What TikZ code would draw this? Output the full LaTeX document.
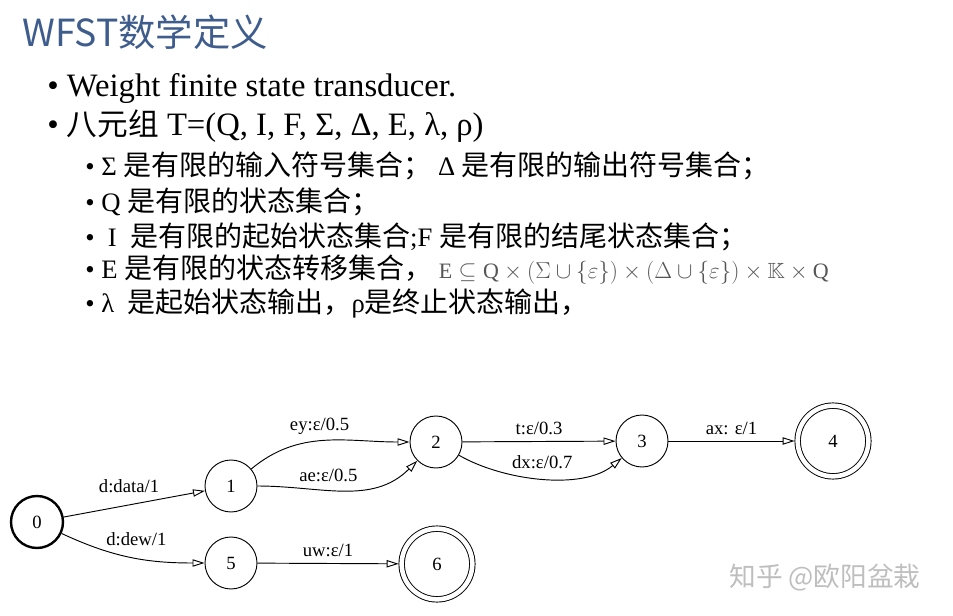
\documentclass[tikz,border=0pt]{standalone}
\usepackage{fontspec}
\usepackage{amssymb}
\setmainfont{Liberation Serif}
\newfontfamily\cjk{Noto Sans CJK SC}
\usetikzlibrary{arrows.meta}
\definecolor{titleblue}{RGB}{62,92,140}
\definecolor{markgray}{RGB}{190,190,190}
\definecolor{formgray}{RGB}{85,85,85}
\tikzstyle{state}=[circle,draw,line width=0.7pt,minimum size=39pt,inner sep=0pt,font=\fontsize{14}{14}\selectfont]
\tikzstyle{start}=[state,line width=1.8pt]
\tikzstyle{final}=[state,double,double distance=3.4pt,minimum size=53pt,outer sep=2.3pt]
\tikzstyle{edge}=[draw,line width=0.7pt,-{Triangle[open,length=9pt,width=5.5pt]}]
\tikzstyle{trans}=[font=\fontsize{14}{14}\selectfont,inner sep=1pt]
\tikzstyle{textline}=[anchor=base west,inner sep=0pt]
\tikzstyle{mainpt}=[textline,font=\fontsize{24.5}{30}\selectfont]
\tikzstyle{subpt}=[textline,font=\fontsize{20}{24}\selectfont]
\newcommand{\zh}[1]{{\cjk\fontsize{21}{24}\selectfont #1}}

\begin{document}
\begin{tikzpicture}[x=0.75pt,y=0.75pt]
    \useasboundingbox (0,0) rectangle (953,-616);

    % Title and definition
    \node[textline,text=titleblue,font=\cjk\fontsize{28}{30}\selectfont] (title) at (22,-47) {WFST数学定义};
    \node[mainpt] (def) at (47,-97) {• Weight finite state transducer.};
    \node[mainpt] (tuple) at (47,-136) {• {\cjk\fontsize{23}{30}\selectfont 八元组} T=(Q, I, F, Σ, Δ, E, λ, ρ)};

    \node[subpt] (sigma) at (85,-176) {• Σ \zh{是有限的输入符号集合；} Δ \zh{是有限的输出符号集合；}};
    \node[subpt] (qset) at (85,-212) {• Q \zh{是有限的状态集合；}};
    \node[subpt] (iset) at (85,-247) {•\ \ I\ \ \zh{是有限的起始状态集合};F \zh{是有限的结尾状态集合；}};
    \node[subpt] (eset) at (85,-279) {• E \zh{是有限的状态转移集合，}\ {\color{formgray}\fontsize{16.5}{18}\selectfont $\mathrm{E}\subseteq\mathrm{Q}\times(\Sigma\cup\{\varepsilon\})\times(\Delta\cup\{\varepsilon\})\times\mathbb{K}\times\mathrm{Q}$}};
    \node[subpt] (lambda) at (85,-313) {• λ\ \ \zh{是起始状态输出，}ρ\zh{是终止状态输出，}};

    % States
    \node[start] (s0) at (37,-522) {0};
    \foreach \pos/\name in {{(231,-486)/1},{(436,-442)/2},{(642,-441)/3},{(231,-563)/5}}
        \node[state] (s\name) at \pos {\name};
    \foreach \pos/\name in {{(833,-441)/4},{(437,-564)/6}}
        \node[final] (s\name) at \pos {\name};

    % Transitions
    \path[edge] (s0) -- node[trans,above=7pt,xshift=-4pt] {d:data/1} (s1);
    \path[edge] (s0) to[out=-25,in=180] node[trans,above=7pt,xshift=4pt] {d:dew/1} (s5);
    \path[edge] (s1) to[out=40,in=180] node[trans,above=3pt,xshift=-4pt] {ey:ε/0.5} (s2);
    \path[edge] (s1) to[out=0,in=-135] node[trans,above=5pt,xshift=-12pt] {ae:ε/0.5} (s2);
    \path[edge] (s2) -- node[trans,above=4pt] {t:ε/0.3} (s3);
    \path[edge] (s2) to[out=-30,in=-140,looseness=0.8] node[trans,above=6pt] {dx:ε/0.7} (s3);
    \path[edge] (s3) -- node[trans,above=3pt] {ax: ε/1} (s4);
    \path[edge] (s5) -- node[trans,above=4pt] {uw:ε/1} (s6);

    % Watermark
    \node[font=\cjk\fontsize{20}{20}\selectfont,text=markgray] (mark) at (825,-578) {知乎 @欧阳盆栽};
\end{tikzpicture}
\end{document}
